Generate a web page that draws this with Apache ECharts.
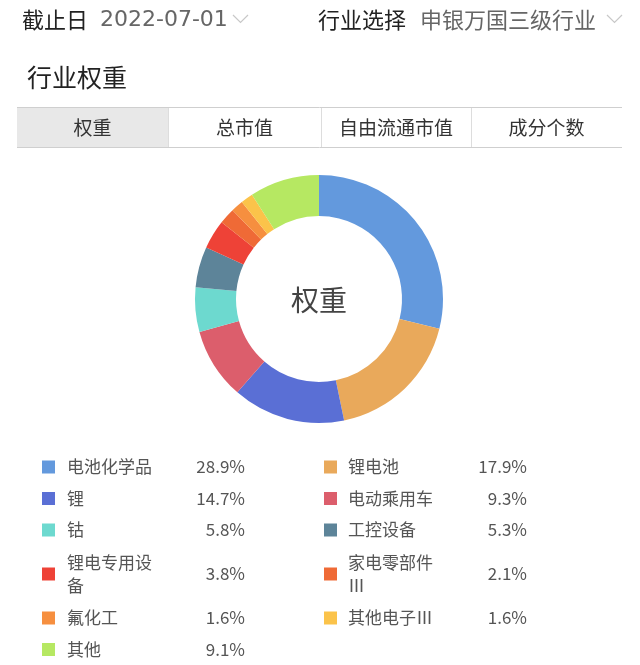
<!DOCTYPE html>
<html>
<head>
<meta charset="utf-8">
<script src="https://cdn.jsdelivr.net/npm/echarts@6/dist/echarts.min.js"></script>
<style>
html,body{margin:0;padding:0;background:#fff;}
#chart{width:640px;height:665px;}
</style>
</head>
<body>
<div id="chart"></div>
<script>
// ---- data ----
var dateLabel = '截止日';
var dateValue = '2022-07-01';
var industryLabel = '行业选择';
var industryValue = '申银万国三级行业';
var pageTitle = '行业权重';
var tabs = ['权重', '总市值', '自由流通市值', '成分个数'];
var centerText = '权重';
var categories = ['电池化学品', '锂电池', '锂', '电动乘用车', '钴', '工控设备', '锂电专用设备', '家电零部件Ⅲ', '氟化工', '其他电子Ⅲ', '其他'];
var weights = [28.9, 17.9, 14.7, 9.3, 5.8, 5.3, 3.8, 2.1, 1.6, 1.6, 9.1];
var colors = ['#6399dd', '#e9a95b', '#5a6fd5', '#dc5e6c', '#6dd9cf', '#5d8499', '#ee4237', '#ef6a36', '#f68f3f', '#fbc34a', '#b6e862'];

// ---- layout ----
var FONT = '"Noto Sans CJK SC", "Noto Sans", sans-serif';
var chart = echarts.init(document.getElementById('chart'), null, {renderer: 'canvas'});

var g = [];
function txt(x, y, s, size, color, align, font) {
  g.push({type: 'text', x: x, y: y, style: {text: s, font: size + 'px ' + (font || FONT), fill: color, align: align || 'left', verticalAlign: 'middle'}});
}
function chevron(x, y) {
  g.push({type: 'polyline', shape: {points: [[x, y], [x + 7.5, y + 7.5], [x + 15, y]]}, style: {stroke: '#c8c8c8', lineWidth: 1.2, fill: null}});
}
// header
txt(22, 20, dateLabel, 22, '#222');
txt(100, 20, dateValue, 22, '#666', 'left', '"DejaVu Sans", sans-serif');
chevron(233, 15);
txt(318, 20, industryLabel, 22, '#222');
txt(420, 20, industryValue, 22, '#666');
chevron(607, 15);
// title
txt(27, 77, pageTitle, 25, '#222');
// tabs
var tabX = [17, 168, 321, 471, 622];
g.push({type: 'rect', shape: {x: tabX[0], y: 107, width: tabX[1] - tabX[0], height: 40}, style: {fill: '#e8e8e8'}});
g.push({type: 'line', shape: {x1: 17, y1: 107.5, x2: 622, y2: 107.5}, style: {stroke: '#cfcfcf', lineWidth: 1}});
g.push({type: 'line', shape: {x1: 17, y1: 147.5, x2: 622, y2: 147.5}, style: {stroke: '#cfcfcf', lineWidth: 1}});
for (var i = 1; i < 4; i++) {
  g.push({type: 'line', shape: {x1: tabX[i] + 0.5, y1: 108, x2: tabX[i] + 0.5, y2: 147}, style: {stroke: '#dddddd', lineWidth: 1}});
}
tabs.forEach(function (t, i) {
  txt((tabX[i] + tabX[i + 1]) / 2, 127.5, t, 19, '#333', 'center');
});
// center text
txt(319, 300, centerText, 28, '#444', 'center');

// legend (two columns, rows paired)
var measureCtx = document.createElement('canvas').getContext('2d');
measureCtx.font = '17px ' + FONT;
var wrapW = 90;
function lineCount(s) {
  var lines = 1, w = 0;
  for (var k = 0; k < s.length; k++) {
    var cw = measureCtx.measureText(s[k]).width;
    if (w + cw > wrapW) { lines++; w = cw; } else { w += cw; }
  }
  return lines;
}
var cols = [{sq: 42, label: 67, val: 245}, {sq: 324, label: 348, val: 527}];
var y = 467 - 15.75;
for (var r = 0; r * 2 < categories.length; r++) {
  var idxs = [r * 2, r * 2 + 1].filter(function (k) { return k < categories.length; });
  var lines = Math.max.apply(null, idxs.map(function (k) { return lineCount(categories[k]); }));
  var h = 31.5 + 25 * (lines - 1);
  var cy = y + h / 2;
  idxs.forEach(function (k, c) {
    var col = cols[c];
    g.push({type: 'rect', shape: {x: col.sq, y: cy - 6.5, width: 13, height: 13}, style: {fill: colors[k]}});
    g.push({type: 'text', x: col.label, y: cy, style: {text: categories[k], font: '17px ' + FONT, fill: '#555', width: wrapW, overflow: 'break', lineHeight: 23, align: 'left', verticalAlign: 'middle'}});
    txt(col.val, cy, weights[k].toFixed(1) + '%', 17, '#555', 'right');
  });
  y += h;
}

var option = {
  backgroundColor: '#fff',
  animation: false,
  color: colors,
  series: [{
    type: 'pie',
    center: [319, 299],
    radius: [83, 124],
    startAngle: 90,
    clockwise: true,
    label: {show: false},
    labelLine: {show: false},
    emphasis: {disabled: true},
    itemStyle: {borderWidth: 0},
    data: categories.map(function (c, i) { return {name: c, value: weights[i]}; })
  }],
  graphic: g
};
chart.setOption(option);
</script>
</body>
</html>
